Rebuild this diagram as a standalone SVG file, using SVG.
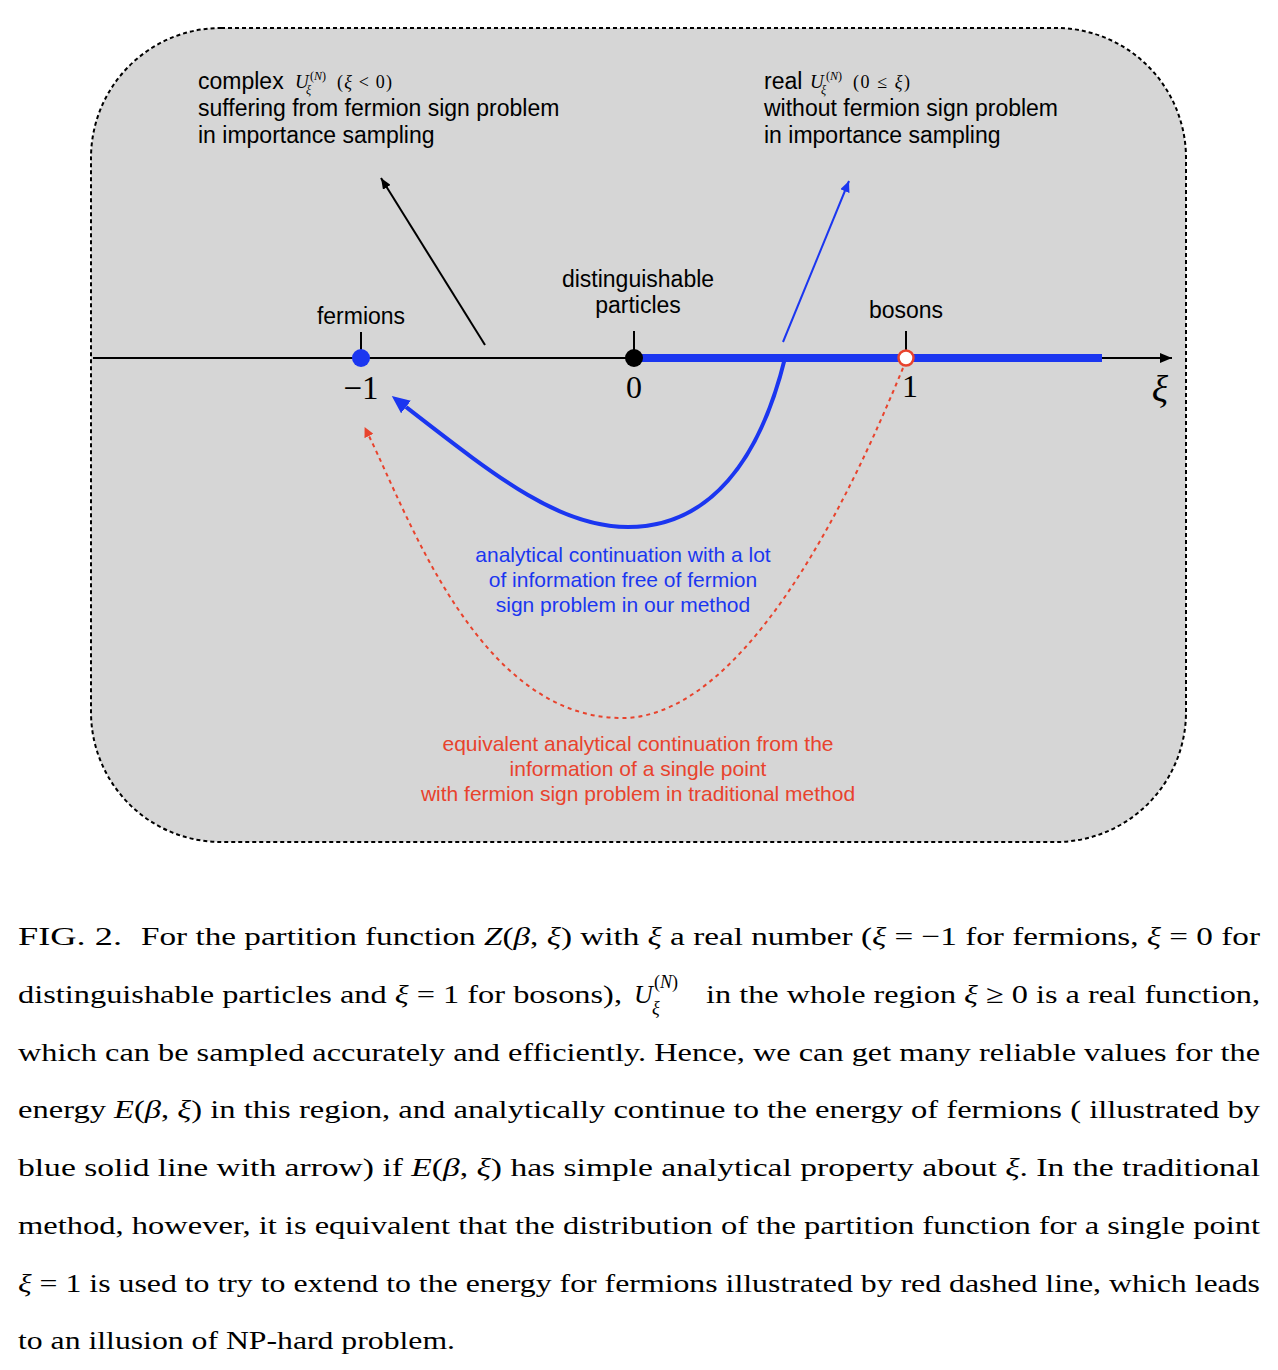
<svg xmlns="http://www.w3.org/2000/svg" width="1278" height="1370" viewBox="0 0 1278 1370">
<defs>
<style>
.lbl{font-family:"Liberation Sans",Arial,Helvetica,sans-serif;font-size:23px;fill:#000}
.mid{text-anchor:middle}
.bt{font-family:"Liberation Sans",Arial,sans-serif;font-size:21px;fill:#1b36f0;text-anchor:middle}
.rt{font-family:"Liberation Sans",Arial,sans-serif;font-size:21px;fill:#e8432d;text-anchor:middle}
.math{font-family:"Liberation Serif","Times New Roman",serif;fill:#000}
.it{font-style:italic}
.num{font-family:"Liberation Serif","Times New Roman",serif;font-size:32px;fill:#000;text-anchor:middle}
.cap{font-family:"Liberation Serif","Times New Roman",serif;font-size:26px;fill:#000}
.tick{stroke:#000;stroke-width:2}
</style>
<marker id="ahAxis" markerUnits="userSpaceOnUse" markerWidth="13" markerHeight="10" refX="12" refY="5" orient="auto"><path d="M0,0 L12,5 L0,10 Z" fill="#000"/></marker>
<marker id="ahBlack" markerUnits="userSpaceOnUse" markerWidth="12" markerHeight="9" refX="11" refY="4.5" orient="auto"><path d="M0,0 L11,4.5 L0,9 Z" fill="#000"/></marker>
<marker id="ahBlueS" markerUnits="userSpaceOnUse" markerWidth="12" markerHeight="10" refX="11" refY="5" orient="auto"><path d="M0,0 L11,5 L0,10 Z" fill="#1b36f0"/></marker>
<marker id="ahBlueL" markerUnits="userSpaceOnUse" markerWidth="19" markerHeight="16" refX="0" refY="8" orient="auto"><path d="M0,0 L18,8 L0,16 Z" fill="#1b36f0"/></marker>
<marker id="ahRed" markerUnits="userSpaceOnUse" markerWidth="11" markerHeight="10" refX="0" refY="5" orient="auto"><path d="M0,0 L10,5 L0,10 Z" fill="#e8432d"/></marker>
</defs>

<g id="panel">
<rect x="91" y="28" width="1095" height="814" rx="130" ry="130" fill="#d6d6d6" stroke="#000" stroke-width="2" stroke-dasharray="4 3"/>
</g>

<g id="axis">
<line x1="93" y1="358" x2="1172" y2="358" stroke="#000" stroke-width="2" marker-end="url(#ahAxis)"/>
<line x1="634" y1="358" x2="1102" y2="358" stroke="#1b36f0" stroke-width="8"/>
<text class="num" x="1160" y="402" style="font-size:38px"><tspan class="it">ξ</tspan></text>
</g>

<g id="node-fermions">
<line class="tick" x1="361" y1="332" x2="361" y2="350"/>
<circle cx="361" cy="358" r="9" fill="#1b36f0"/>
<text class="lbl mid" x="361" y="324">fermions</text>
<text class="num" x="361" y="399" style="font-size:33px">−1</text>
</g>

<g id="node-distinguishable">
<line class="tick" x1="634" y1="331" x2="634" y2="350"/>
<circle cx="634" cy="358" r="9" fill="#000"/>
<text class="lbl mid" x="638" y="287">distinguishable</text>
<text class="lbl mid" x="638" y="313">particles</text>
<text class="num" x="634" y="398">0</text>
</g>

<g id="node-bosons">
<line class="tick" x1="906" y1="331" x2="906" y2="350"/>
<circle cx="906" cy="358" r="7.5" fill="#fff" stroke="#e8432d" stroke-width="2.5"/>
<text class="lbl mid" x="906" y="318">bosons</text>
<text class="num" x="910" y="397">1</text>
</g>

<g id="label-complex">
<text class="lbl" x="198" y="89">complex</text>
<text class="math it" x="295" y="88" style="font-size:19px">U</text>
<text class="math" x="310" y="80" style="font-size:12px">(<tspan class="it">N</tspan>)</text>
<text class="math it" x="306" y="94" style="font-size:12px">ξ</text>
<text class="math" x="337" y="88" style="font-size:18px" textLength="55" lengthAdjust="spacing">(<tspan class="it">ξ</tspan> &lt; 0)</text>
<text class="lbl" x="198" y="116">suffering from fermion sign problem</text>
<text class="lbl" x="198" y="143">in importance sampling</text>
</g>

<g id="label-real">
<text class="lbl" x="764" y="89">real</text>
<text class="math it" x="810" y="88" style="font-size:19px">U</text>
<text class="math" x="826" y="80" style="font-size:12px">(<tspan class="it">N</tspan>)</text>
<text class="math it" x="821" y="94" style="font-size:12px">ξ</text>
<text class="math" x="853" y="88" style="font-size:18px" textLength="57" lengthAdjust="spacing">(0 ≤ <tspan class="it">ξ</tspan>)</text>
<text class="lbl" x="764" y="116">without fermion sign problem</text>
<text class="lbl" x="764" y="143">in importance sampling</text>
</g>

<g id="label-blue">
<text class="bt" x="623" y="562">analytical continuation with a lot</text>
<text class="bt" x="623" y="587">of information free of fermion</text>
<text class="bt" x="623" y="612">sign problem in our method</text>
</g>

<g id="label-red">
<text class="rt" x="638" y="751">equivalent analytical continuation from the</text>
<text class="rt" x="638" y="776">information of a single point</text>
<text class="rt" x="638" y="801">with fermion sign problem in traditional method</text>
</g>

<g id="connectors" fill="none">
<line x1="485" y1="345" x2="381" y2="178" stroke="#000" stroke-width="2" marker-end="url(#ahBlack)"/>
<line x1="783" y1="342" x2="849" y2="181" stroke="#1b36f0" stroke-width="2" marker-end="url(#ahBlueS)"/>
<path d="M785 358 C760 460 710 527 628 527 C560 527 500 480 406 407" stroke="#1b36f0" stroke-width="4" marker-end="url(#ahBlueL)"/>
<path d="M903 368 C875 435 760 718 622 718 C480 718 410 520 369 436" stroke="#e8432d" stroke-width="2" stroke-dasharray="4 4" marker-end="url(#ahRed)"/>
</g>

<g id="caption">
<text class="cap" x="18" y="945" textLength="104" lengthAdjust="spacingAndGlyphs">FIG. 2.</text>
<text class="cap" x="141" y="945" textLength="1119" lengthAdjust="spacingAndGlyphs">For the partition function <tspan class="it">Z</tspan>(<tspan class="it">β</tspan>, <tspan class="it">ξ</tspan>) with <tspan class="it">ξ</tspan> a real number (<tspan class="it">ξ</tspan> = −1 for fermions, <tspan class="it">ξ</tspan> = 0 for</text>
<text class="cap" x="18" y="1003" textLength="604" lengthAdjust="spacingAndGlyphs">distinguishable particles and <tspan class="it">ξ</tspan> = 1 for bosons),</text>
<text class="cap it" x="634" y="1003">U</text>
<text class="cap" x="654" y="988" style="font-size:18px">(<tspan class="it">N</tspan>)</text>
<text class="cap it" x="652" y="1014" style="font-size:18px">ξ</text>
<text class="cap" x="706" y="1003" textLength="554" lengthAdjust="spacingAndGlyphs">in the whole region <tspan class="it">ξ</tspan> ≥ 0 is a real function,</text>
<text class="cap" x="18" y="1061" textLength="1242" lengthAdjust="spacingAndGlyphs">which can be sampled accurately and efficiently. Hence, we can get many reliable values for the</text>
<text class="cap" x="18" y="1118" textLength="1242" lengthAdjust="spacingAndGlyphs">energy <tspan class="it">E</tspan>(<tspan class="it">β</tspan>, <tspan class="it">ξ</tspan>) in this region, and analytically continue to the energy of fermions ( illustrated by</text>
<text class="cap" x="18" y="1176" textLength="1242" lengthAdjust="spacingAndGlyphs">blue solid line with arrow) if <tspan class="it">E</tspan>(<tspan class="it">β</tspan>, <tspan class="it">ξ</tspan>) has simple analytical property about <tspan class="it">ξ</tspan>. In the traditional</text>
<text class="cap" x="18" y="1234" textLength="1242" lengthAdjust="spacingAndGlyphs">method, however, it is equivalent that the distribution of the partition function for a single point</text>
<text class="cap" x="18" y="1292" textLength="1242" lengthAdjust="spacingAndGlyphs"><tspan class="it">ξ</tspan> = 1 is used to try to extend to the energy for fermions illustrated by red dashed line, which leads</text>
<text class="cap" x="18" y="1349" textLength="437" lengthAdjust="spacingAndGlyphs">to an illusion of NP-hard problem.</text>
</g>
</svg>
